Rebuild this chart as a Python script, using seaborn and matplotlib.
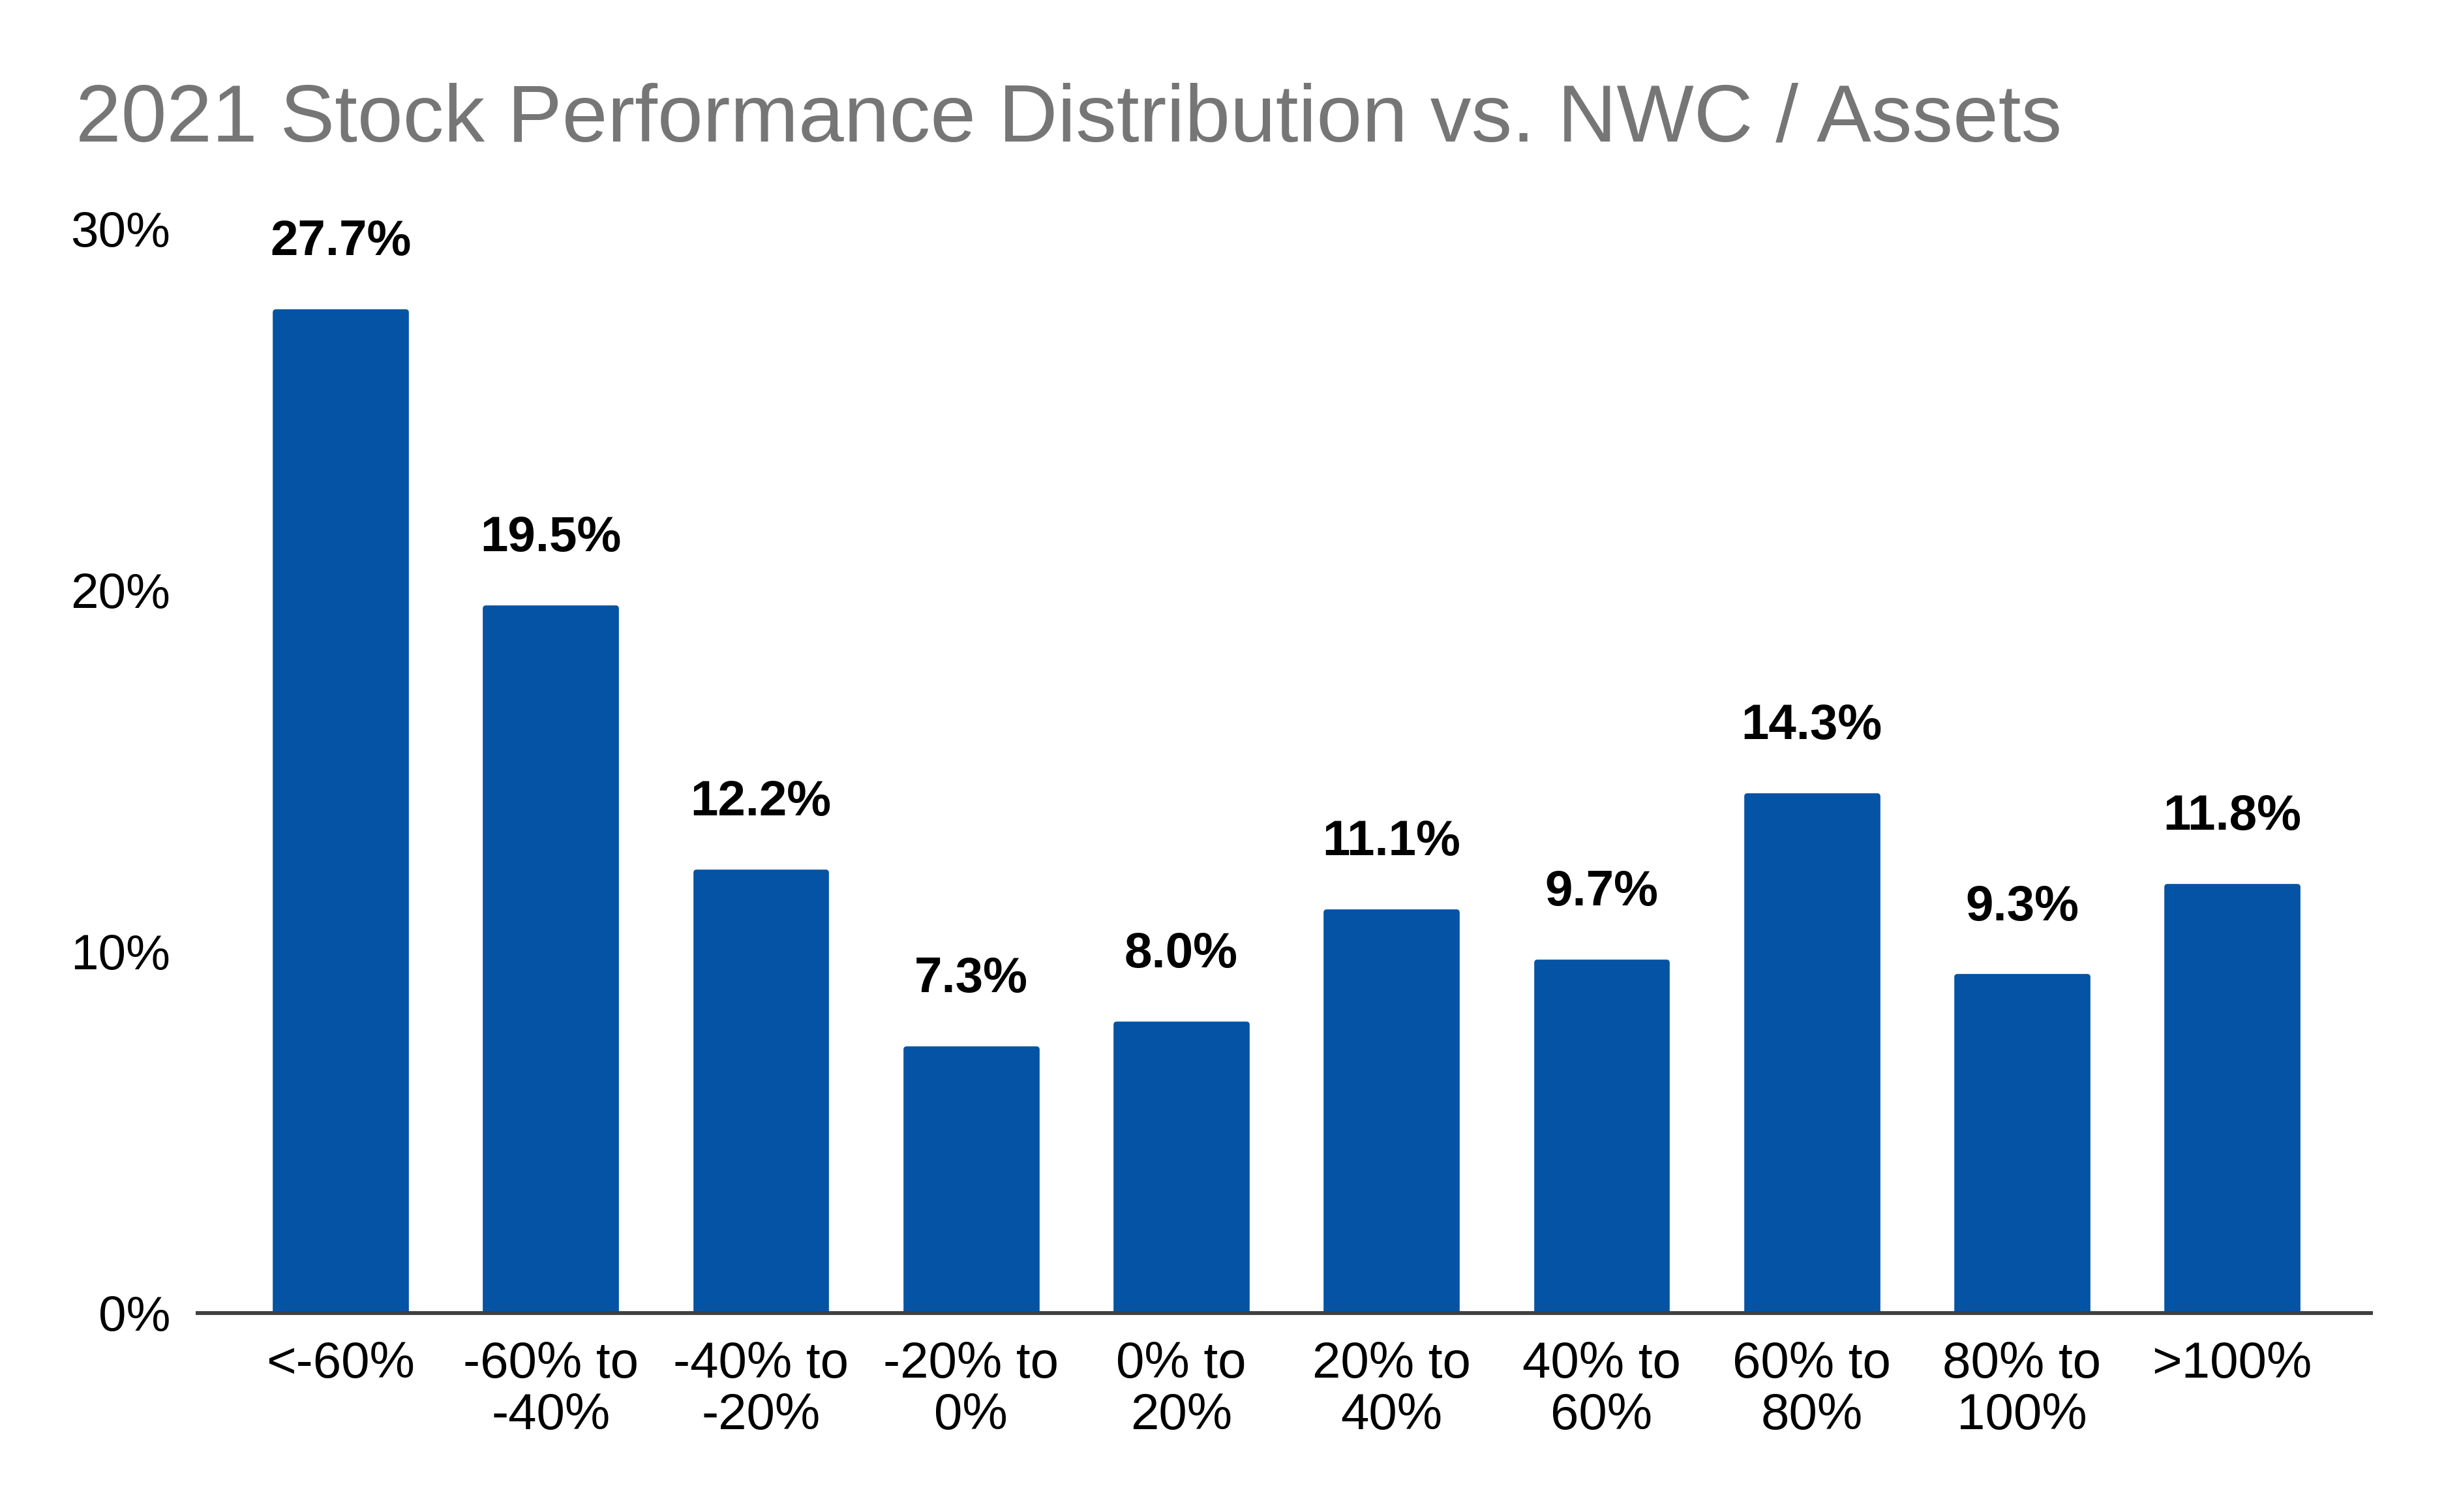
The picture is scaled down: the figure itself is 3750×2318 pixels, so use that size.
import matplotlib
matplotlib.use('Agg')
import matplotlib.pyplot as plt
import seaborn as sns

categories = ['<-60%', '-60% to\n-40%', '-40% to\n-20%', '-20% to\n0%', '0% to\n20%',
              '20% to\n40%', '40% to\n60%', '60% to\n80%', '80% to\n100%', '>100%']
values = [27.7, 19.5, 12.2, 7.3, 8.0, 11.1, 9.7, 14.3, 9.3, 11.8]
yticks = [0, 10, 20, 30]
title = '2021 Stock Performance Distribution vs. NWC / Assets'

sns.set_style('white')
plt.rcParams['font.family'] = ['Liberation Sans', 'DejaVu Sans']

fig = plt.figure(figsize=(15, 9.272), dpi=250)
ax = fig.add_axes([0.0808, 0.1316, 0.8885, 0.7174])

bar_color = '#0453a4'
sns.barplot(x=categories, y=values, color=bar_color, saturation=1, width=0.62, ax=ax)

# round the bar corners a little with a round-joined edge
for p in ax.patches:
    p.set_edgecolor(bar_color)
    p.set_linewidth(2.5)
    p.set_joinstyle('round')

for i, v in enumerate(values):
    ax.annotate(f'{v:.1f}%', xy=(i, v), xytext=(0, 25), textcoords='offset points',
                ha='center', va='baseline', fontsize=22, fontweight='bold', color='black')

ax.set_xlim(-0.68, 9.66)
ax.set_ylim(0, 30)
ax.set_yticks(yticks)
ax.set_yticklabels([f'{t}%' for t in yticks])
ax.tick_params(axis='y', length=0, pad=12, labelsize=22, colors='black')
ax.tick_params(axis='x', length=0, pad=12, labelsize=22.5, colors='black')
for lab in ax.get_xticklabels():
    lab.set_linespacing(1.12)

for s in ['top', 'right', 'left']:
    ax.spines[s].set_visible(False)
ax.spines['bottom'].set_color('#404040')
ax.spines['bottom'].set_linewidth(1.7)
ax.set_xlabel('')
ax.set_ylabel('')

fig.text(0.031, 0.9068, title, va='baseline', ha='left', fontsize=36.1, color='#767676')

fig.savefig('out.png', dpi=250, facecolor='white')
